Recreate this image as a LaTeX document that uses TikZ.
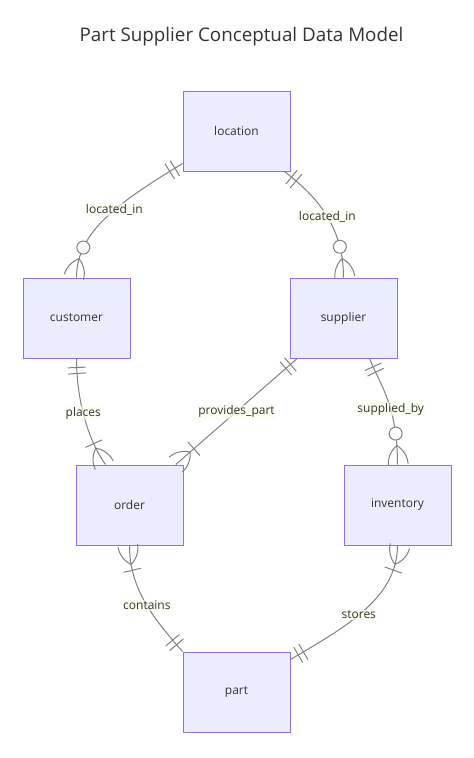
\documentclass[tikz,border=0pt]{standalone}
\usepackage{fontspec}
\setmainfont{Open Sans}
\usetikzlibrary{decorations.markings}
\definecolor{entfill}{HTML}{ECECFF}
\definecolor{entline}{HTML}{9370DB}
\definecolor{txtgray}{HTML}{333333}
\definecolor{lblfill}{HTML}{F9FFEC}

\begin{document}
\begin{tikzpicture}[x=1pt, y=-1pt, line width=1pt,
  entity/.style={draw=entline, fill=entfill, minimum width=107pt, minimum height=80pt,
    inner sep=0pt, text=txtgray, font=\fontsize{12}{14}\selectfont},
  rel/.style={draw=gray},
  lbl/.style={fill=lblfill, fill opacity=0.7, text opacity=1, text=txtgray,
    inner sep=1pt, font=\fontsize{12}{14}\selectfont},
  onestart/.style={postaction={decorate, decoration={markings,
    mark=at position 9pt with {\draw[gray] (0,-9pt) -- (0,9pt);},
    mark=at position 15pt with {\draw[gray] (0,-9pt) -- (0,9pt);}}}},
  oneend/.style={postaction={decorate, decoration={markings,
    mark=at position -9pt with {\draw[gray] (0,-9pt) -- (0,9pt);},
    mark=at position -15pt with {\draw[gray] (0,-9pt) -- (0,9pt);}}}},
  manystart/.style={postaction={decorate, decoration={markings,
    mark=at position 19pt with {\draw[gray] (-19pt,10pt) .. controls (-13pt,10pt) and (-5pt,7pt) .. (0,0)
      .. controls (-5pt,-7pt) and (-13pt,-10pt) .. (-19pt,-10pt);},
    mark=at position 25pt with {\draw[gray] (0,-9pt) -- (0,9pt);}}}},
  manyend/.style={postaction={decorate, decoration={markings,
    mark=at position -19pt with {\draw[gray] (19pt,10pt) .. controls (13pt,10pt) and (5pt,7pt) .. (0,0)
      .. controls (5pt,-7pt) and (13pt,-10pt) .. (19pt,-10pt);},
    mark=at position -24pt with {\draw[gray] (0,-9pt) -- (0,9pt);}}}},
  zmanyend/.style={postaction={decorate, decoration={markings,
    mark=at position -19pt with {\draw[gray] (19pt,10pt) .. controls (13pt,10pt) and (5pt,7pt) .. (0,0)
      .. controls (5pt,-7pt) and (13pt,-10pt) .. (19pt,-10pt);},
    mark=at position -31pt with {\draw[gray, fill=white] (0,0) circle (6.5pt);}}}}]
  \useasboundingbox (0,0) rectangle (474,758);
  \node[text=txtgray, font=\fontsize{18.8}{22}\selectfont] (title) at (241.5,37)
    {Part Supplier Conceptual Data Model};
  \node[entity] (location) at (236.5,131) {location};
  \node[entity] (customer) at (76.5,318) {customer};
  \node[entity] (supplier) at (343.5,318) {supplier};
  \node[entity] (order) at (129.5,505) {order};
  \node[entity] (inventory) at (397.5,505) {inventory};
  \node[entity] (part) at (236.5,692) {part};
  % relationships, start end first
  \draw[rel, onestart, zmanyend] ([yshift=8pt]location.south west)
    .. controls (123,200) and (76.5,230) .. node[lbl, pos=0.44] {located\_in} (customer.north);
  \draw[rel, onestart, zmanyend] ([xshift=-6pt]location.south east)
    .. controls (315,195) and (343.5,225) .. node[lbl, pos=0.53] {located\_in} (supplier.north);
  \draw[rel, onestart, manyend] (customer.south)
    .. controls (76.5,400) and (88,440) .. node[lbl, pos=0.46] {places} ([xshift=-24pt]order.north);
  \draw[rel, onestart, manyend] (supplier) -- node[lbl] {provides\_part} (order);
  \draw[rel, onestart, zmanyend] ([xshift=26pt]supplier.south)
    .. controls (380,385) and (397.5,405) .. node[lbl, pos=0.6] {supplied\_by} (inventory.north);
  \draw[rel, manystart, oneend] (order.south)
    .. controls (129.5,590) and (155,620) .. node[lbl, pos=0.52] {contains} (part.north west);
  \draw[rel, manystart, oneend] (inventory.south)
    .. controls (397.5,600) and (340,630) .. node[lbl, pos=0.53] {stores} ([yshift=-8pt]part.north east);
\end{tikzpicture}
\end{document}
